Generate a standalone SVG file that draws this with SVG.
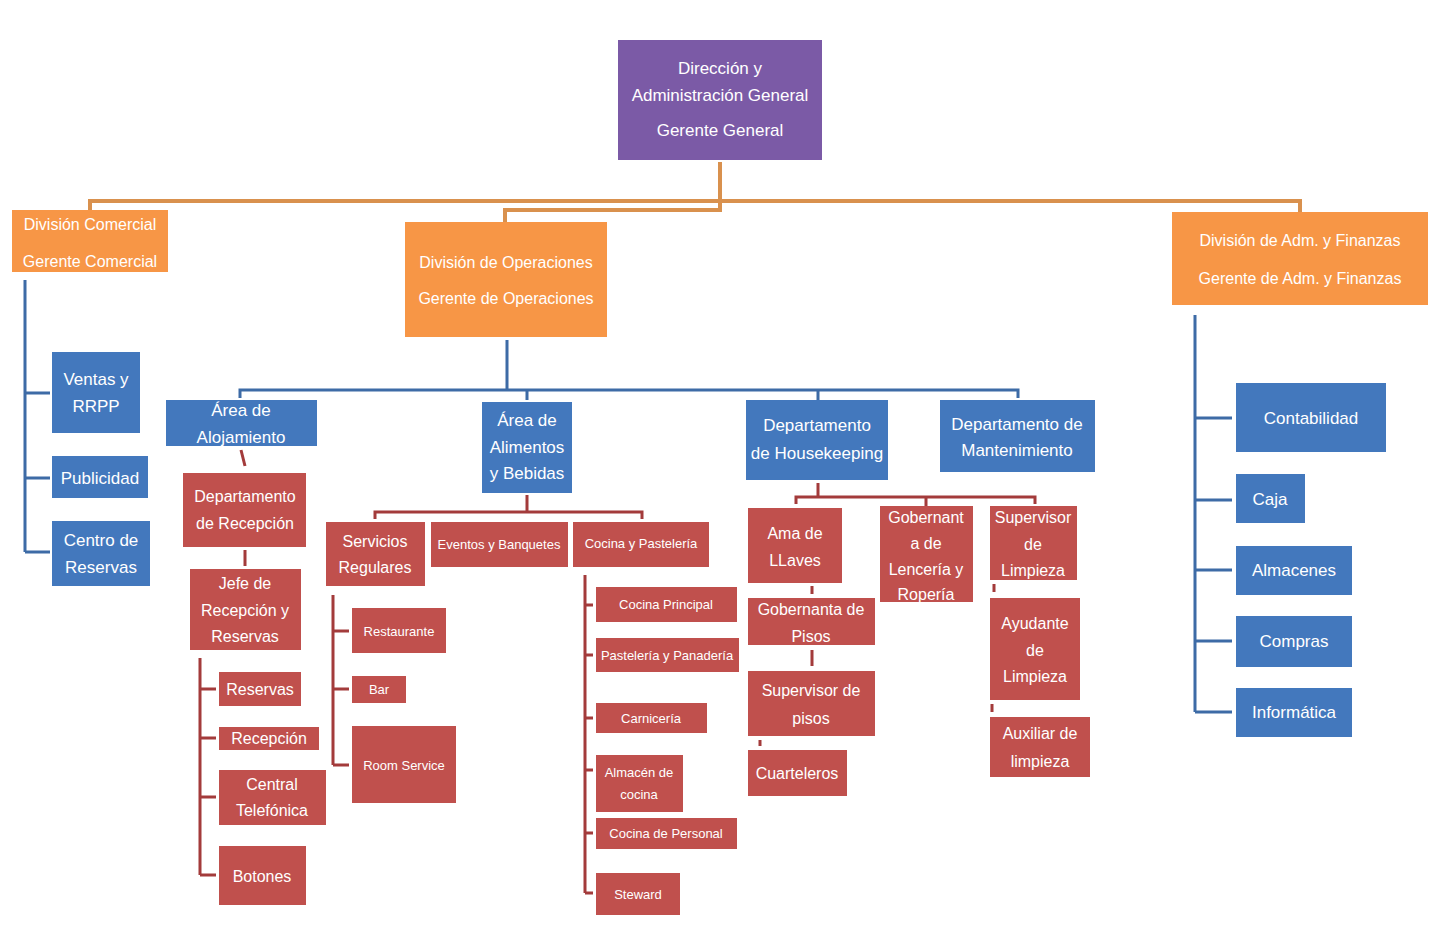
<svg xmlns="http://www.w3.org/2000/svg" width="1445" height="945" viewBox="0 0 1445 945">
<style>
text{font-family:"Liberation Sans","DejaVu Sans",sans-serif;fill:#ffffff;text-anchor:middle;}
.pu{fill:#7B5AA6;}
.or{fill:#F79646;}
.bl{fill:#4378BD;}
.rd{fill:#C0504D;}
.t18{font-size:17px;}
.t17{font-size:16px;}
.t16{font-size:16px;}
.t13{font-size:13px;}
.lo{stroke:#D9914E;stroke-width:4;fill:none;}
.lb{stroke:#3D6BA6;stroke-width:3;fill:none;}
.lr{stroke:#A33B3B;stroke-width:3;fill:none;}
</style>
<rect width="1445" height="945" fill="#ffffff"/>
<g id="connectors">
<path class="lo" d="M720 162 V210 H505 V222 M90 210 V201 H1300 V212"/>
<path class="lb" d="M25 280 V552 M25 393 H50 M25 478 H50 M25 552 H50"/>
<path class="lb" d="M507 340 V390 M240 398 V390 H1018 V398 M527 390 V400 M818 390 V400"/>
<path class="lb" d="M1195 315 V712 M1195 418 H1232 M1195 500 H1232 M1195 570 H1232 M1195 641 H1232 M1195 712 H1232"/>
<path class="lr" d="M241 450 L245 466 M245 550 V566"/>
<path class="lr" d="M200 658 V875 M200 689 H216 M200 738 H216 M200 797 H216 M200 875 H216"/>
<path class="lr" d="M527 495 V512 M375 519 V512 H642 V519"/>
<path class="lr" d="M333 595 V765 M333 631 H349 M333 689 H349 M333 765 H349"/>
<path class="lr" d="M585 575 V893 M585 605 H593 M585 655 H593 M585 718 H593 M585 770 H593 M585 833 H593 M585 893 H593"/>
<path class="lr" d="M818 483 V497 M796 504 V497 H1035 V504 M926 497 V506"/>
<path class="lr" d="M812 586 V594 M812 650 V666 M760 740 V746 M994 584 V592 M992 704 V712"/>
</g>
<g id="n-direccion"><rect class="pu" x="618" y="40" width="204" height="120"/><text class="t18" x="720" y="74">Dirección y</text><text class="t18" x="720" y="101">Administración General</text><text class="t18" x="720" y="136">Gerente General</text></g>
<g id="n-comercial"><rect class="or" x="12" y="210" width="156" height="62"/><text class="t17" x="90" y="230">División Comercial</text><text class="t17" x="90" y="267">Gerente Comercial</text></g>
<g id="n-operaciones"><rect class="or" x="405" y="222" width="202" height="115"/><text class="t17" x="506" y="268">División de Operaciones</text><text class="t17" x="506" y="304">Gerente de Operaciones</text></g>
<g id="n-finanzas"><rect class="or" x="1172" y="212" width="256" height="93"/><text class="t17" x="1300" y="246">División de Adm. y Finanzas</text><text class="t17" x="1300" y="284">Gerente de Adm. y Finanzas</text></g>
<g id="n-ventas"><rect class="bl" x="52" y="352" width="88" height="81"/><text class="t18" x="96" y="385">Ventas y</text><text class="t18" x="96" y="412">RRPP</text></g>
<g id="n-publicidad"><rect class="bl" x="52" y="456" width="96" height="42"/><text class="t18" x="100" y="484">Publicidad</text></g>
<g id="n-centro"><rect class="bl" x="52" y="521" width="98" height="65"/><text class="t18" x="101" y="546">Centro de</text><text class="t18" x="101" y="573">Reservas</text></g>
<g id="n-alojamiento"><rect class="bl" x="166" y="400" width="151" height="46"/><text class="t18" x="241" y="416">Área de</text><text class="t18" x="241" y="443">Alojamiento</text></g>
<g id="n-alimentos"><rect class="bl" x="482" y="402" width="90" height="91"/><text class="t18" x="527" y="426">Área de</text><text class="t18" x="527" y="453">Alimentos</text><text class="t18" x="527" y="479">y Bebidas</text></g>
<g id="n-housekeeping"><rect class="bl" x="746" y="400" width="142" height="80"/><text class="t18" x="817" y="431">Departamento</text><text class="t18" x="817" y="459">de Housekeeping</text></g>
<g id="n-mantenimiento"><rect class="bl" x="940" y="400" width="155" height="72"/><text class="t18" x="1017" y="430">Departamento de</text><text class="t18" x="1017" y="456">Mantenimiento</text></g>
<g id="n-contabilidad"><rect class="bl" x="1236" y="383" width="150" height="69"/><text class="t18" x="1311" y="424">Contabilidad</text></g>
<g id="n-caja"><rect class="bl" x="1236" y="474" width="69" height="49"/><text class="t18" x="1270" y="505">Caja</text></g>
<g id="n-almacenes"><rect class="bl" x="1236" y="546" width="116" height="49"/><text class="t18" x="1294" y="576">Almacenes</text></g>
<g id="n-compras"><rect class="bl" x="1236" y="616" width="116" height="51"/><text class="t18" x="1294" y="647">Compras</text></g>
<g id="n-informatica"><rect class="bl" x="1236" y="688" width="116" height="49"/><text class="t18" x="1294" y="718">Informática</text></g>
<g id="n-dep-recepcion"><rect class="rd" x="183" y="473" width="123" height="74"/><text class="t17" x="245" y="502">Departamento</text><text class="t17" x="245" y="529">de Recepción</text></g>
<g id="n-jefe"><rect class="rd" x="190" y="569" width="111" height="81"/><text class="t17" x="245" y="589">Jefe de</text><text class="t17" x="245" y="616">Recepción y</text><text class="t17" x="245" y="642">Reservas</text></g>
<g id="n-reservas"><rect class="rd" x="219" y="672" width="82" height="34"/><text class="t17" x="260" y="695">Reservas</text></g>
<g id="n-recepcion"><rect class="rd" x="219" y="727" width="100" height="23"/><text class="t17" x="269" y="744">Recepción</text></g>
<g id="n-central"><rect class="rd" x="219" y="770" width="107" height="55"/><text class="t17" x="272" y="790">Central</text><text class="t17" x="272" y="816">Telefónica</text></g>
<g id="n-botones"><rect class="rd" x="219" y="846" width="87" height="59"/><text class="t17" x="262" y="882">Botones</text></g>
<g id="n-servicios"><rect class="rd" x="326" y="522" width="99" height="64"/><text class="t17" x="375" y="547">Servicios</text><text class="t17" x="375" y="573">Regulares</text></g>
<g id="n-eventos"><rect class="rd" x="431" y="522" width="137" height="45"/><text class="t13" x="499" y="549">Eventos y Banquetes</text></g>
<g id="n-cocina"><rect class="rd" x="573" y="522" width="136" height="45"/><text class="t13" x="641" y="548">Cocina y Pastelería</text></g>
<g id="n-restaurante"><rect class="rd" x="352" y="608" width="94" height="45"/><text class="t13" x="399" y="636">Restaurante</text></g>
<g id="n-bar"><rect class="rd" x="352" y="676" width="54" height="27"/><text class="t13" x="379" y="694">Bar</text></g>
<g id="n-room"><rect class="rd" x="352" y="726" width="104" height="77"/><text class="t13" x="404" y="770">Room Service</text></g>
<g id="n-cocina-principal"><rect class="rd" x="596" y="587" width="141" height="35"/><text class="t13" x="666" y="609">Cocina Principal</text></g>
<g id="n-pasteleria"><rect class="rd" x="596" y="638" width="143" height="34"/><text class="t13" x="667" y="660">Pastelería y Panadería</text></g>
<g id="n-carniceria"><rect class="rd" x="596" y="703" width="111" height="30"/><text class="t13" x="651" y="723">Carnicería</text></g>
<g id="n-almacen-cocina"><rect class="rd" x="596" y="755" width="87" height="57"/><text class="t13" x="639" y="777">Almacén de</text><text class="t13" x="639" y="799">cocina</text></g>
<g id="n-cocina-personal"><rect class="rd" x="596" y="818" width="141" height="31"/><text class="t13" x="666" y="838">Cocina de Personal</text></g>
<g id="n-steward"><rect class="rd" x="596" y="873" width="84" height="42"/><text class="t13" x="638" y="899">Steward</text></g>
<g id="n-ama"><rect class="rd" x="748" y="508" width="94" height="75"/><text class="t17" x="795" y="539">Ama de</text><text class="t17" x="795" y="566">LLaves</text></g>
<g id="n-gob-pisos"><rect class="rd" x="748" y="598" width="127" height="47"/><text class="t17" x="811" y="615">Gobernanta de</text><text class="t17" x="811" y="642">Pisos</text></g>
<g id="n-sup-pisos"><rect class="rd" x="748" y="671" width="127" height="65"/><text class="t17" x="811" y="696">Supervisor de</text><text class="t17" x="811" y="724">pisos</text></g>
<g id="n-cuarteleros"><rect class="rd" x="748" y="750" width="99" height="46"/><text class="t17" x="797" y="779">Cuarteleros</text></g>
<g id="n-gob-lenceria"><rect class="rd" x="880" y="506" width="93" height="96"/><text class="t17" x="926" y="523">Gobernant</text><text class="t17" x="926" y="549">a de</text><text class="t17" x="926" y="575">Lencería y</text><text class="t17" x="926" y="600">Ropería</text></g>
<g id="n-sup-limpieza"><rect class="rd" x="990" y="506" width="87" height="74"/><text class="t17" x="1033" y="523">Supervisor</text><text class="t17" x="1033" y="550">de</text><text class="t17" x="1033" y="576">Limpieza</text></g>
<g id="n-ayudante"><rect class="rd" x="990" y="598" width="90" height="102"/><text class="t17" x="1035" y="629">Ayudante</text><text class="t17" x="1035" y="656">de</text><text class="t17" x="1035" y="682">Limpieza</text></g>
<g id="n-auxiliar"><rect class="rd" x="990" y="717" width="100" height="60"/><text class="t17" x="1040" y="739">Auxiliar de</text><text class="t17" x="1040" y="767">limpieza</text></g>
</svg>
